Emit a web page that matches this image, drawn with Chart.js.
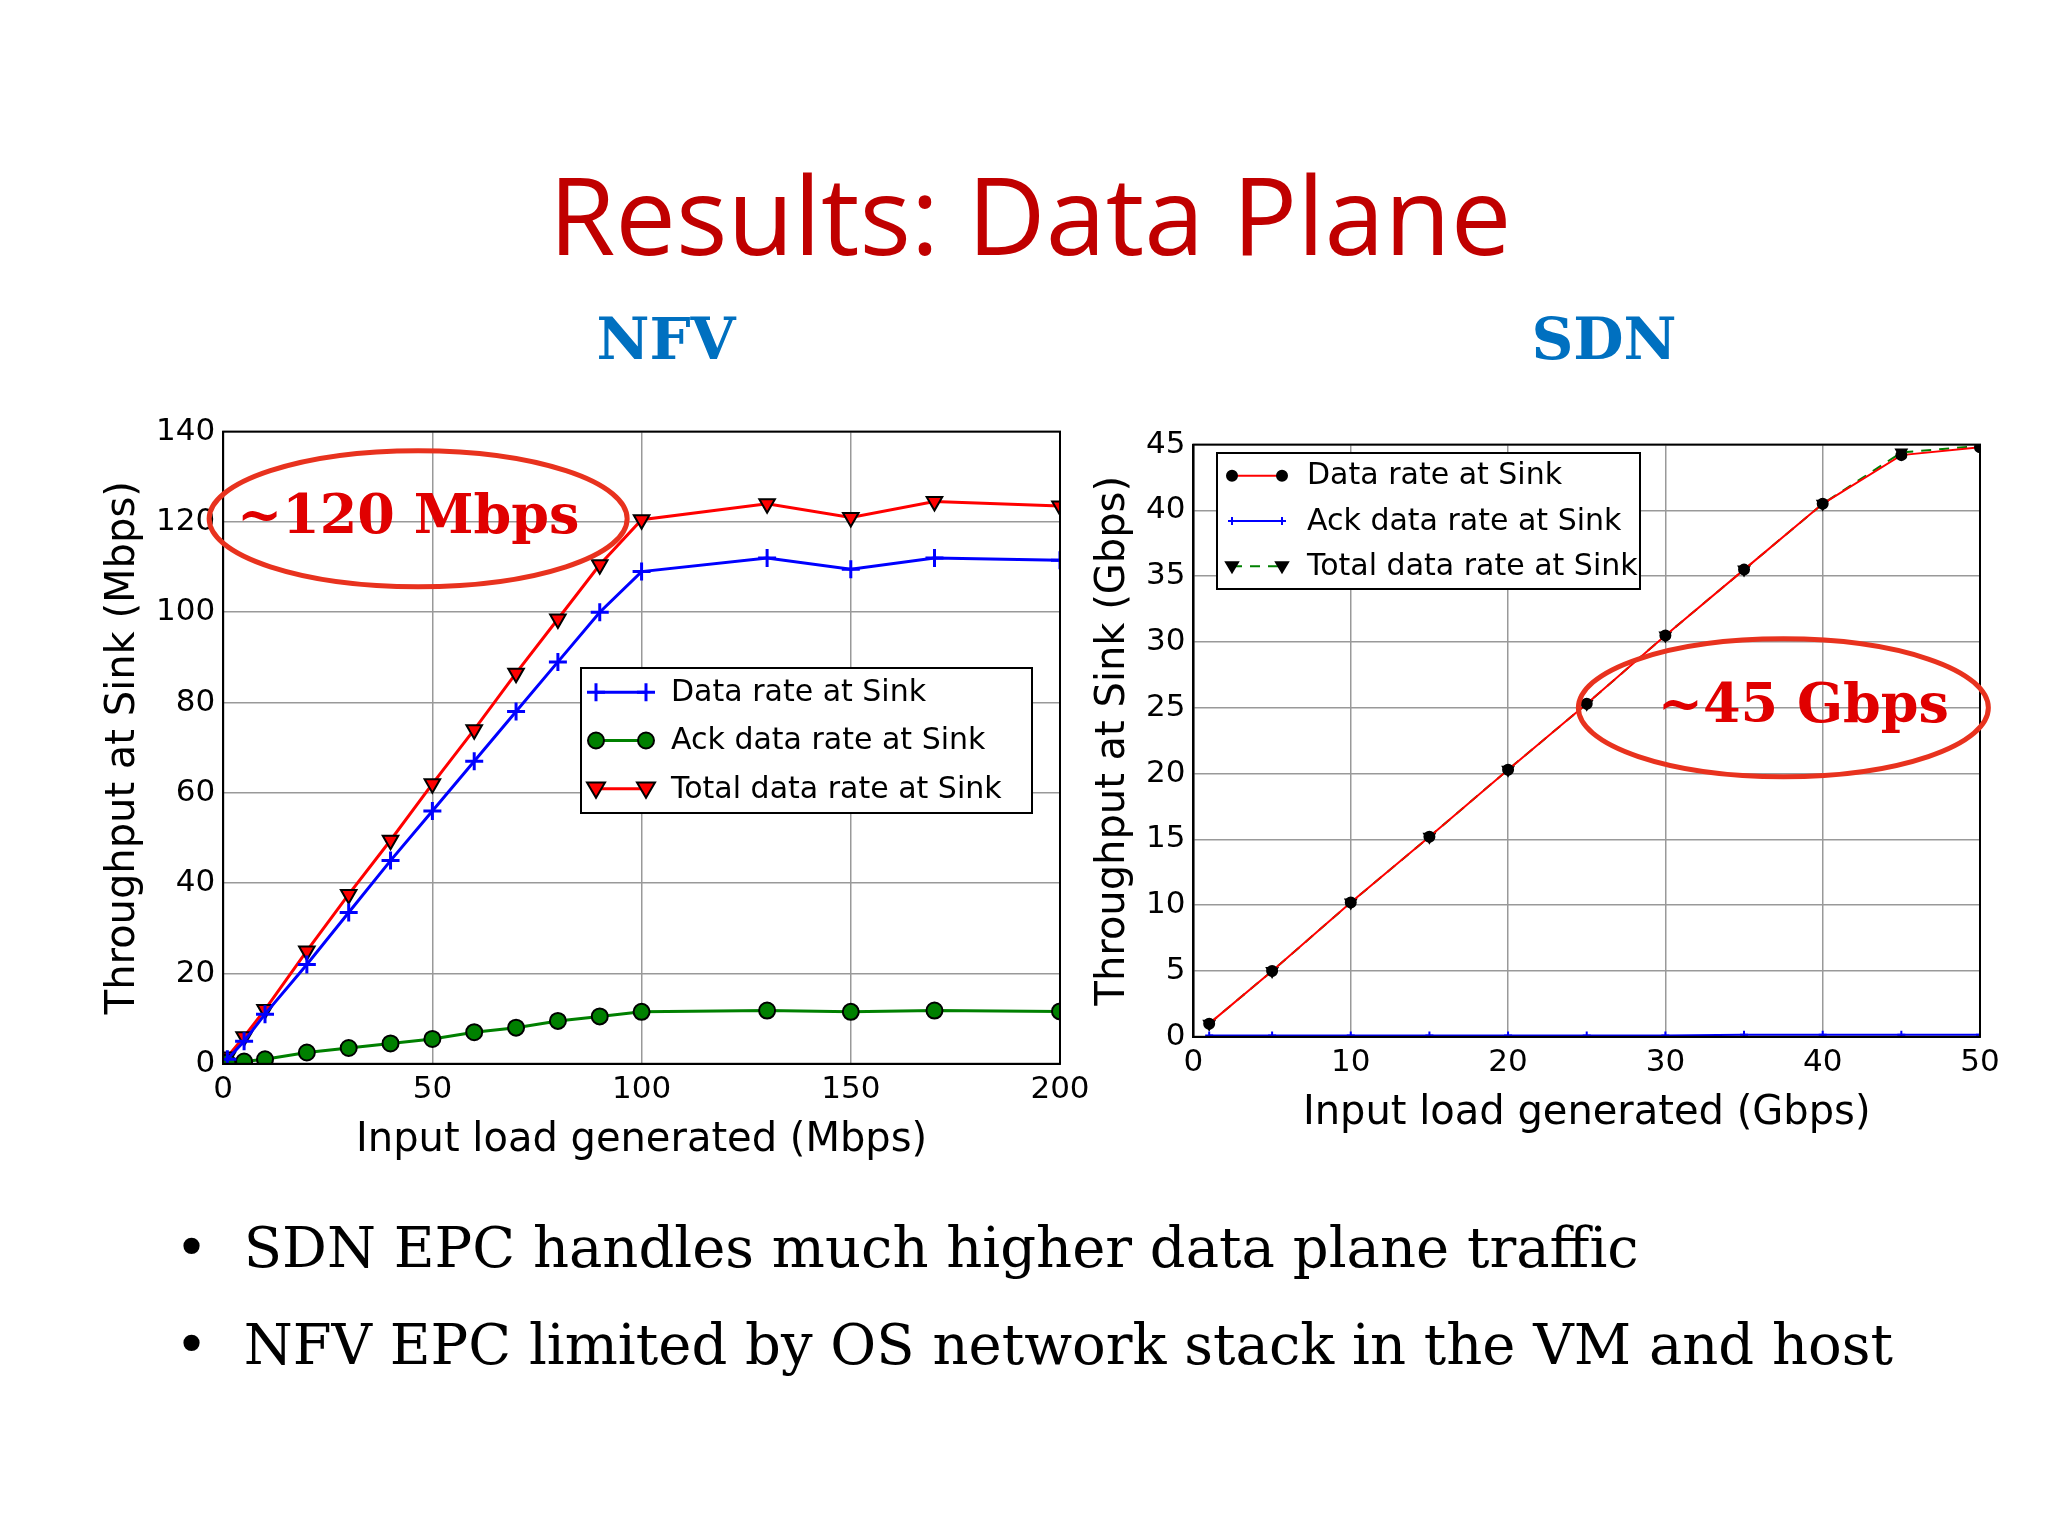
<!DOCTYPE html>
<html><head><meta charset="utf-8">
<script src="https://cdn.jsdelivr.net/npm/chart.js@4/dist/chart.umd.min.js"></script>
<style>
body{margin:0;width:2048px;height:1536px;background:#fff;position:relative;overflow:hidden;font-family:"Open Sans",sans-serif}
.t{position:absolute;white-space:nowrap}
#title{left:0;width:2060px;text-align:center;top:140px;font-size:108px;color:#c00000;font-family:"Open Sans"}
.sub{top:305px;font-family:"DejaVu Serif",serif;font-weight:bold;font-size:58px;color:#0070c0;transform:translateX(-50%)}
.b{left:175px;font-family:"DejaVu Serif",serif;font-size:56px;color:#000}
.cw{position:absolute}
</style></head><body>
<div id="title" class="t">Results: Data Plane</div>
<div class="t sub" style="left:666px">NFV</div>
<div class="t sub" style="left:1604px">SDN</div>
<div class="t b" style="top:1215px">•&nbsp;&nbsp;SDN EPC handles much higher data plane traffic</div>
<div class="t b" style="top:1312px">•&nbsp;&nbsp;NFV EPC limited by OS network stack in the VM and host</div>
<div class="cw" style="left:100px;top:405px;width:1000px;height:760px"><canvas id="c1"></canvas></div>
<div class="cw" style="left:1090px;top:418px;width:920px;height:720px"><canvas id="c2"></canvas></div>
<script>
const nfvX=[1,5,10,20,30,40,50,60,70,80,90,100,130,150,170,200];
const nfvData=[1,5,11,22,33.5,45,56,67,78,89,100,109,112,109.5,112,111.5];
const nfvAck=[0.3,0.5,1,2.5,3.5,4.5,5.5,7,8,9.5,10.5,11.5,11.8,11.5,11.8,11.6];
const nfvTotal=[1.5,6,12,25,37.5,49.5,62,74,86.5,98.5,110.5,120.5,124,121,124.5,123.5];
const sdnX=[1,5,10,15,20,25,30,35,40,45,50];
const sdnData=[1,5,10.2,15.2,20.3,25.3,30.5,35.5,40.5,44.2,44.8];
const sdnAck=[0.1,0.1,0.1,0.1,0.1,0.1,0.1,0.15,0.15,0.15,0.15];
const sdnTotal=[1,5,10.2,15.2,20.3,25.3,30.5,35.5,40.5,44.4,44.9];
const pts=(xs,ys)=>xs.map((x,i)=>({x,y:ys[i]}));
const F="'DejaVu Sans'";
function axes(xmax,xstep,ymax,ystep,xt,yt){
 const g={color:'#999',lineWidth:1.5,borderDash:[2,4],tickLength:0};
 const tk={color:'#000',font:{family:F,size:31},padding:8};
 return {x:{type:'linear',min:0,max:xmax,ticks:{...tk,stepSize:xstep},grid:g,border:{color:'#000',width:2},title:{display:true,text:xt,color:'#000',font:{family:F,size:40},padding:0}},
 y:{min:0,max:ymax,ticks:{...tk,stepSize:ystep},grid:g,border:{color:'#000',width:2},title:{display:true,text:yt,color:'#000',font:{family:F,size:40},padding:0}}};
}
function extras(o){return {id:'ex',afterDraw(ch){const c=ch.ctx,a=ch.chartArea,sx=ch.scales.x,sy=ch.scales.y;
 c.save();c.strokeStyle='#000';c.lineWidth=2;c.strokeRect(a.left,a.top,a.right-a.left,a.bottom-a.top);
 // ellipse
 const ex=sx.getPixelForValue(o.ex),ey=sy.getPixelForValue(o.ey);
 c.strokeStyle='#e8321e';c.lineWidth=5;c.beginPath();c.ellipse(ex,ey,o.rx,o.ry,0,0,Math.PI*2);c.stroke();
 c.fillStyle='#e00000';c.font="bold 54px 'DejaVu Serif'";c.textAlign='center';c.textBaseline='middle';c.fillText(o.label,ex-o.lx,ey);
 // legend
 const L=o.leg;c.fillStyle='#fff';c.fillRect(L.x,L.y,L.w,L.h);c.strokeStyle='#000';c.lineWidth=2;c.strokeRect(L.x,L.y,L.w,L.h);
 c.font="30px "+F;c.textAlign='left';
 ch.data.datasets.forEach((d,i)=>{const y=L.y+L.h/(ch.data.datasets.length)*(i+0.5);
  c.strokeStyle=d.borderColor;c.lineWidth=d.borderWidth;c.setLineDash(d.borderDash||[]);c.beginPath();c.moveTo(L.x+15,y);c.lineTo(L.x+65,y);c.stroke();c.setLineDash([]);
  [L.x+15,L.x+65].forEach(px=>{const m=ch.getDatasetMeta(i).data[0];drawPt(c,d,px,y);});
  c.fillStyle='#000';c.fillText(d.label,L.x+90,y+1);});
 c.restore();}};}
function drawPt(c,d,x,y){c.save();c.fillStyle=d.pointBackgroundColor;c.strokeStyle=d.pointBorderColor;c.lineWidth=d.pointBorderWidth;const r=d.pointRadius;
 c.beginPath();if(d.pointStyle==='circle'){c.arc(x,y,r,0,7);c.fill();c.stroke();}
 else if(d.pointStyle==='cross'){c.moveTo(x-r,y);c.lineTo(x+r,y);c.moveTo(x,y-r);c.lineTo(x,y+r);c.stroke();}
 else {c.moveTo(x-r,y-r*0.7);c.lineTo(x+r,y-r*0.7);c.lineTo(x,y+r);c.closePath();c.fill();c.stroke();}
 c.restore();}
const ds=(label,data,col,ps,pb,pbc,r,extra)=>Object.assign({label,data,borderColor:col,borderWidth:3,pointStyle:ps,pointBackgroundColor:pb,pointBorderColor:pbc,pointBorderWidth:2,pointRadius:r,pointRotation:ps==='triangle'?180:0,tension:0},extra||{});
new Chart(document.getElementById('c1'),{type:'line',data:{datasets:[
 ds('Data rate at Sink',pts(nfvX,nfvData),'#0000ff','cross','#0000ff','#0000ff',9,{pointBorderWidth:3}),
 ds('Ack data rate at Sink',pts(nfvX,nfvAck),'#008000','circle','#008000','#000',8),
 ds('Total data rate at Sink',pts(nfvX,nfvTotal),'#ff0000','triangle','#ff0000','#000',9)]},
 options:{responsive:true,maintainAspectRatio:false,animation:false,layout:{padding:{right:40,top:10}},plugins:{legend:{display:false},tooltip:{enabled:false}},scales:axes(200,50,140,20,'Input load generated (Mbps)','Throughput at Sink (Mbps)')},
 plugins:[extras({ex:46.6,ey:120.7,rx:209,ry:68,label:'~120 Mbps',lx:10,leg:{x:481,y:263,w:451,h:145}})]});
new Chart(document.getElementById('c2'),{type:'line',data:{datasets:[
 ds('Data rate at Sink',pts(sdnX,sdnData),'#ff0000','circle','#000','#000',5,{borderWidth:2}),
 ds('Ack data rate at Sink',pts(sdnX,sdnAck),'#0000ff','cross','#0000ff','#0000ff',4,{borderWidth:2}),
 ds('Total data rate at Sink',pts(sdnX,sdnTotal),'#008000','triangle','#000','#000',6,{borderWidth:2,borderDash:[10,8]})]},
 options:{responsive:true,maintainAspectRatio:false,animation:false,layout:{padding:{right:30,top:10}},plugins:{legend:{display:false},tooltip:{enabled:false}},scales:axes(50,10,45,5,'Input load generated (Gbps)','Throughput at Sink (Gbps)')},
 plugins:[extras({ex:37.5,ey:25,rx:205,ry:69,label:'~45 Gbps',lx:-20,leg:{x:127,y:35,w:423,h:136}})]});
</script></body></html>
